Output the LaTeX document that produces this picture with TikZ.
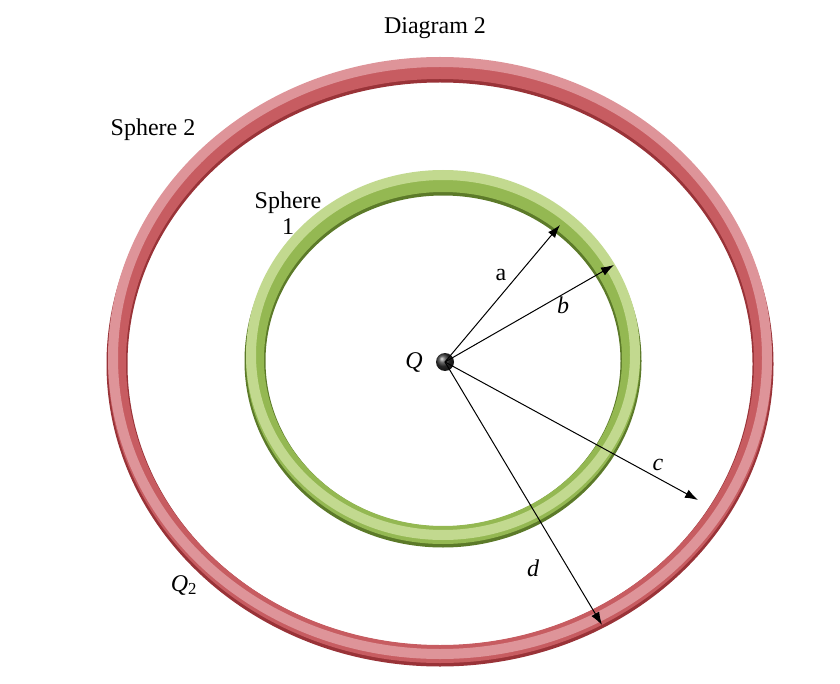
\documentclass[tikz,border=0pt]{standalone}
\usepackage{fontspec}
\setmainfont{Liberation Serif}
\usetikzlibrary{arrows.meta}
\definecolor{ringred}{rgb}{0.78,0.36,0.38}
\definecolor{ringredl}{rgb}{0.87,0.58,0.60}
\definecolor{ringredd}{rgb}{0.60,0.20,0.22}
\definecolor{ringgreen}{rgb}{0.58,0.72,0.32}
\definecolor{ringgreenl}{rgb}{0.76,0.85,0.56}
\definecolor{ringgreend}{rgb}{0.36,0.48,0.16}
\tikzset{radius line/.style={-{Latex[length=13pt,width=9pt]}, line width=1pt},
lbl/.style={font=\fontsize{24}{26}\selectfont}}
\begin{document}
\begin{tikzpicture}[x=1pt,y=-1pt]
\useasboundingbox (0,0) rectangle (840,684);
% red sphere
\draw[ringredd, line width=21pt] (440,364) ellipse [x radius=323, y radius=292];
\draw[ringred, line width=18pt] (440,362) ellipse [x radius=323, y radius=292];
\draw[ringredl, line width=10pt] (440,358) ellipse [x radius=327, y radius=296];
% green sphere
\draw[ringgreend, line width=21pt] (443,361) ellipse [x radius=188, y radius=176];
\draw[ringgreen, line width=18pt] (443,359) ellipse [x radius=188, y radius=176];
\draw[ringgreenl, line width=10pt] (443,355) ellipse [x radius=192, y radius=180];
% charge
\node[circle, minimum size=18pt, inner sep=0pt, ball color=black!80] (q) at (445,362) {};
\coordinate (A) at (560,225);
\coordinate (B) at (614,265);
\coordinate (C) at (698,500);
\coordinate (D) at (602,625);
\draw[radius line] (q.center) -- (A);
\draw[radius line] (q.center) -- (B);
\draw[radius line] (q.center) -- (C);
\draw[radius line] (q.center) -- (D);
\node[lbl] (la) at (501,275) {a};
\node[lbl] (lb) at (563,305) {\itshape b};
\node[lbl] (lc) at (658,465) {\itshape c};
\node[lbl] (ld) at (533,568) {\itshape d};
\node[lbl] (lq) at (414,362) {\itshape Q};
\node[lbl] (lq2) at (184,585) {\itshape Q\textsubscript{\upshape 2}};
\node[lbl] (s2) at (153,130) {Sphere 2};
\node[lbl, align=center, inner sep=0pt] (s1) at (288,213) {Sphere\\1};
\node[lbl] (title) at (435,28) {Diagram 2};
\end{tikzpicture}
\end{document}
